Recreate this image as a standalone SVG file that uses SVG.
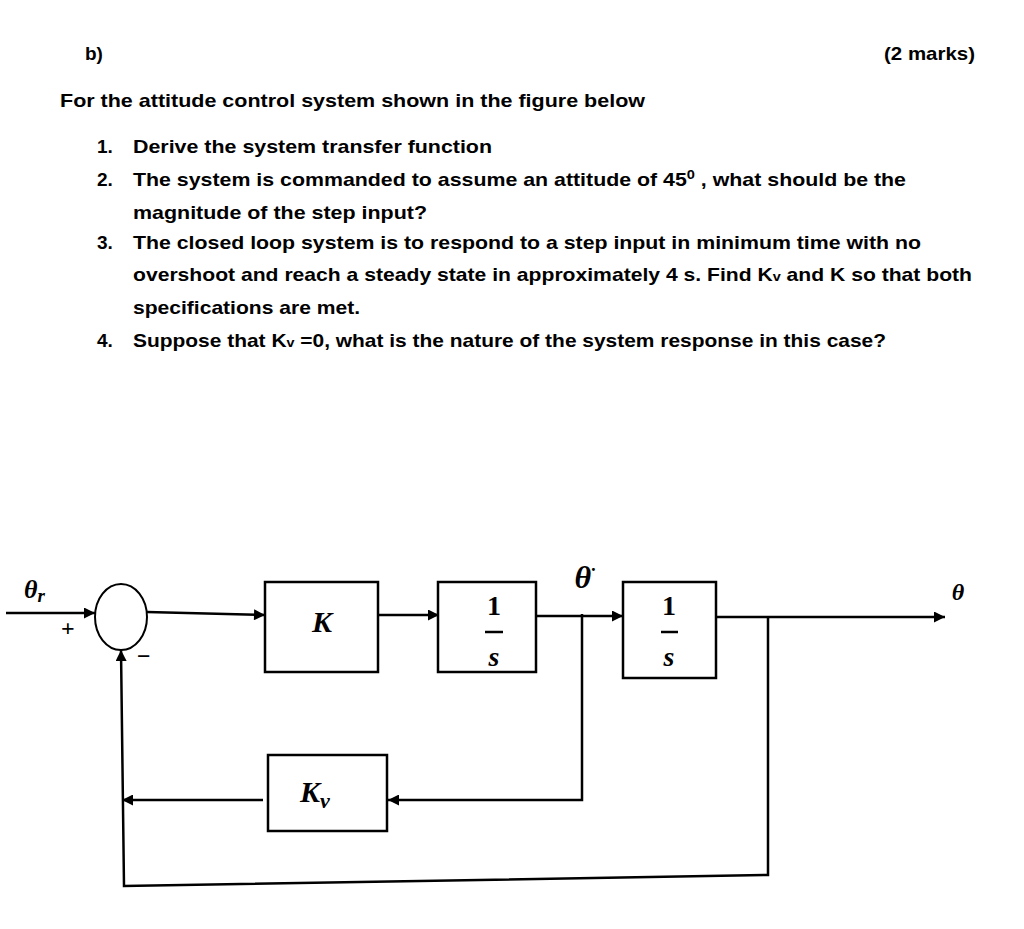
<svg xmlns="http://www.w3.org/2000/svg" width="1024" height="929" viewBox="0 0 1024 929">
<style>
.t{font-family:"Liberation Sans",Arial,sans-serif;font-weight:bold;font-size:19px;fill:#000}
.m{font-family:"Liberation Serif","Times New Roman",serif;font-weight:bold;font-style:italic;fill:#000}
.n{font-family:"Liberation Serif","Times New Roman",serif;font-weight:bold;fill:#000}
.b{fill:#fff;stroke:#000;stroke-width:2.5}
.c{fill:none;stroke:#000;stroke-width:2.5}
</style>
<defs><marker id="a" viewBox="0 0 10 10" refX="10" refY="5" markerWidth="14" markerHeight="11" markerUnits="userSpaceOnUse" orient="auto"><path d="M0,0L10,5L0,10z" fill="#000"/></marker></defs>
<rect width="1024" height="929" fill="#fff"/>
<g id="text">
<text class="t" x="85" y="60">b)</text>
<text class="t" x="884" y="60" textLength="91" lengthAdjust="spacingAndGlyphs">(2 marks)</text>
<text class="t" x="60" y="107" textLength="585" lengthAdjust="spacingAndGlyphs">For the attitude control system shown in the figure below</text>
<text class="t" x="97" y="153">1.</text>
<text class="t" x="133" y="153" textLength="359" lengthAdjust="spacingAndGlyphs">Derive the system transfer function</text>
<text class="t" x="97" y="186">2.</text>
<text class="t" x="133" y="186" textLength="773" lengthAdjust="spacingAndGlyphs">The system is commanded to assume an attitude of 45<tspan dy="-7" font-size="13">0</tspan><tspan dy="7"> , what should be the</tspan></text>
<text class="t" x="133" y="219" textLength="294" lengthAdjust="spacingAndGlyphs">magnitude of the step input?</text>
<text class="t" x="97" y="249">3.</text>
<text class="t" x="133" y="249" textLength="788" lengthAdjust="spacingAndGlyphs">The closed loop system is to respond to a step input in minimum time with no</text>
<text class="t" x="133" y="281" textLength="839" lengthAdjust="spacingAndGlyphs">overshoot and reach a steady state in approximately 4 s. Find K<tspan font-size="13">v</tspan> and K so that both</text>
<text class="t" x="133" y="314" textLength="227" lengthAdjust="spacingAndGlyphs">specifications are met.</text>
<text class="t" x="97" y="347">4.</text>
<text class="t" x="133" y="347" textLength="753" lengthAdjust="spacingAndGlyphs">Suppose that K<tspan font-size="13">v</tspan> =0, what is the nature of the system response in this case?</text>
</g>
<g id="connectors">
<path class="c" d="M6,613H95" marker-end="url(#a)"/>
<path class="c" d="M147,612L265,615" marker-end="url(#a)"/>
<path class="c" d="M378,615H439" marker-end="url(#a)"/>
<path class="c" d="M536,616H623" marker-end="url(#a)"/>
<path class="c" d="M716,617H945" marker-end="url(#a)"/>
<path class="c" d="M582,614V800H388" marker-end="url(#a)"/>
<path class="c" d="M263,800H122" marker-end="url(#a)"/>
<path class="c" d="M768,618V875L124,886L121,650" marker-end="url(#a)"/>
</g>
<g id="sum"><ellipse cx="121" cy="617" rx="26" ry="33" fill="#fff" stroke="#000" stroke-width="2"/></g>
<g id="labels">
<text class="m" x="24" y="598" font-size="26">θ<tspan font-size="19" dy="4">r</tspan></text>
<text class="n" x="61" y="636" font-size="24">+</text>
<text class="n" x="137" y="664" font-size="24">−</text>
<text class="m" x="585" y="588" font-size="32" text-anchor="middle">θ<tspan font-size="18" dy="-12">·</tspan></text>
<text class="m" x="958" y="600" font-size="24" text-anchor="middle">θ</text>
</g>
<g id="K"><rect class="b" x="265" y="582" width="113" height="90"/><text class="m" x="322" y="632" font-size="30" text-anchor="middle">K</text></g>
<g id="int1"><rect class="b" x="438" y="582" width="98" height="90"/><text class="n" x="494" y="615" font-size="28" text-anchor="middle">1</text><line x1="485" y1="632" x2="503" y2="632" stroke="#000" stroke-width="2.5"/><text class="m" x="494" y="666" font-size="28" text-anchor="middle">s</text></g>
<g id="int2"><rect class="b" x="623" y="582" width="93" height="96"/><text class="n" x="669" y="615" font-size="28" text-anchor="middle">1</text><line x1="661" y1="632" x2="678" y2="632" stroke="#000" stroke-width="2.5"/><text class="m" x="669" y="666" font-size="28" text-anchor="middle">s</text></g>
<g id="Kv"><rect class="b" x="268" y="755" width="119" height="76"/><text class="m" x="300" y="802" font-size="30">K<tspan font-size="22" dy="6">v</tspan></text></g>
</svg>
